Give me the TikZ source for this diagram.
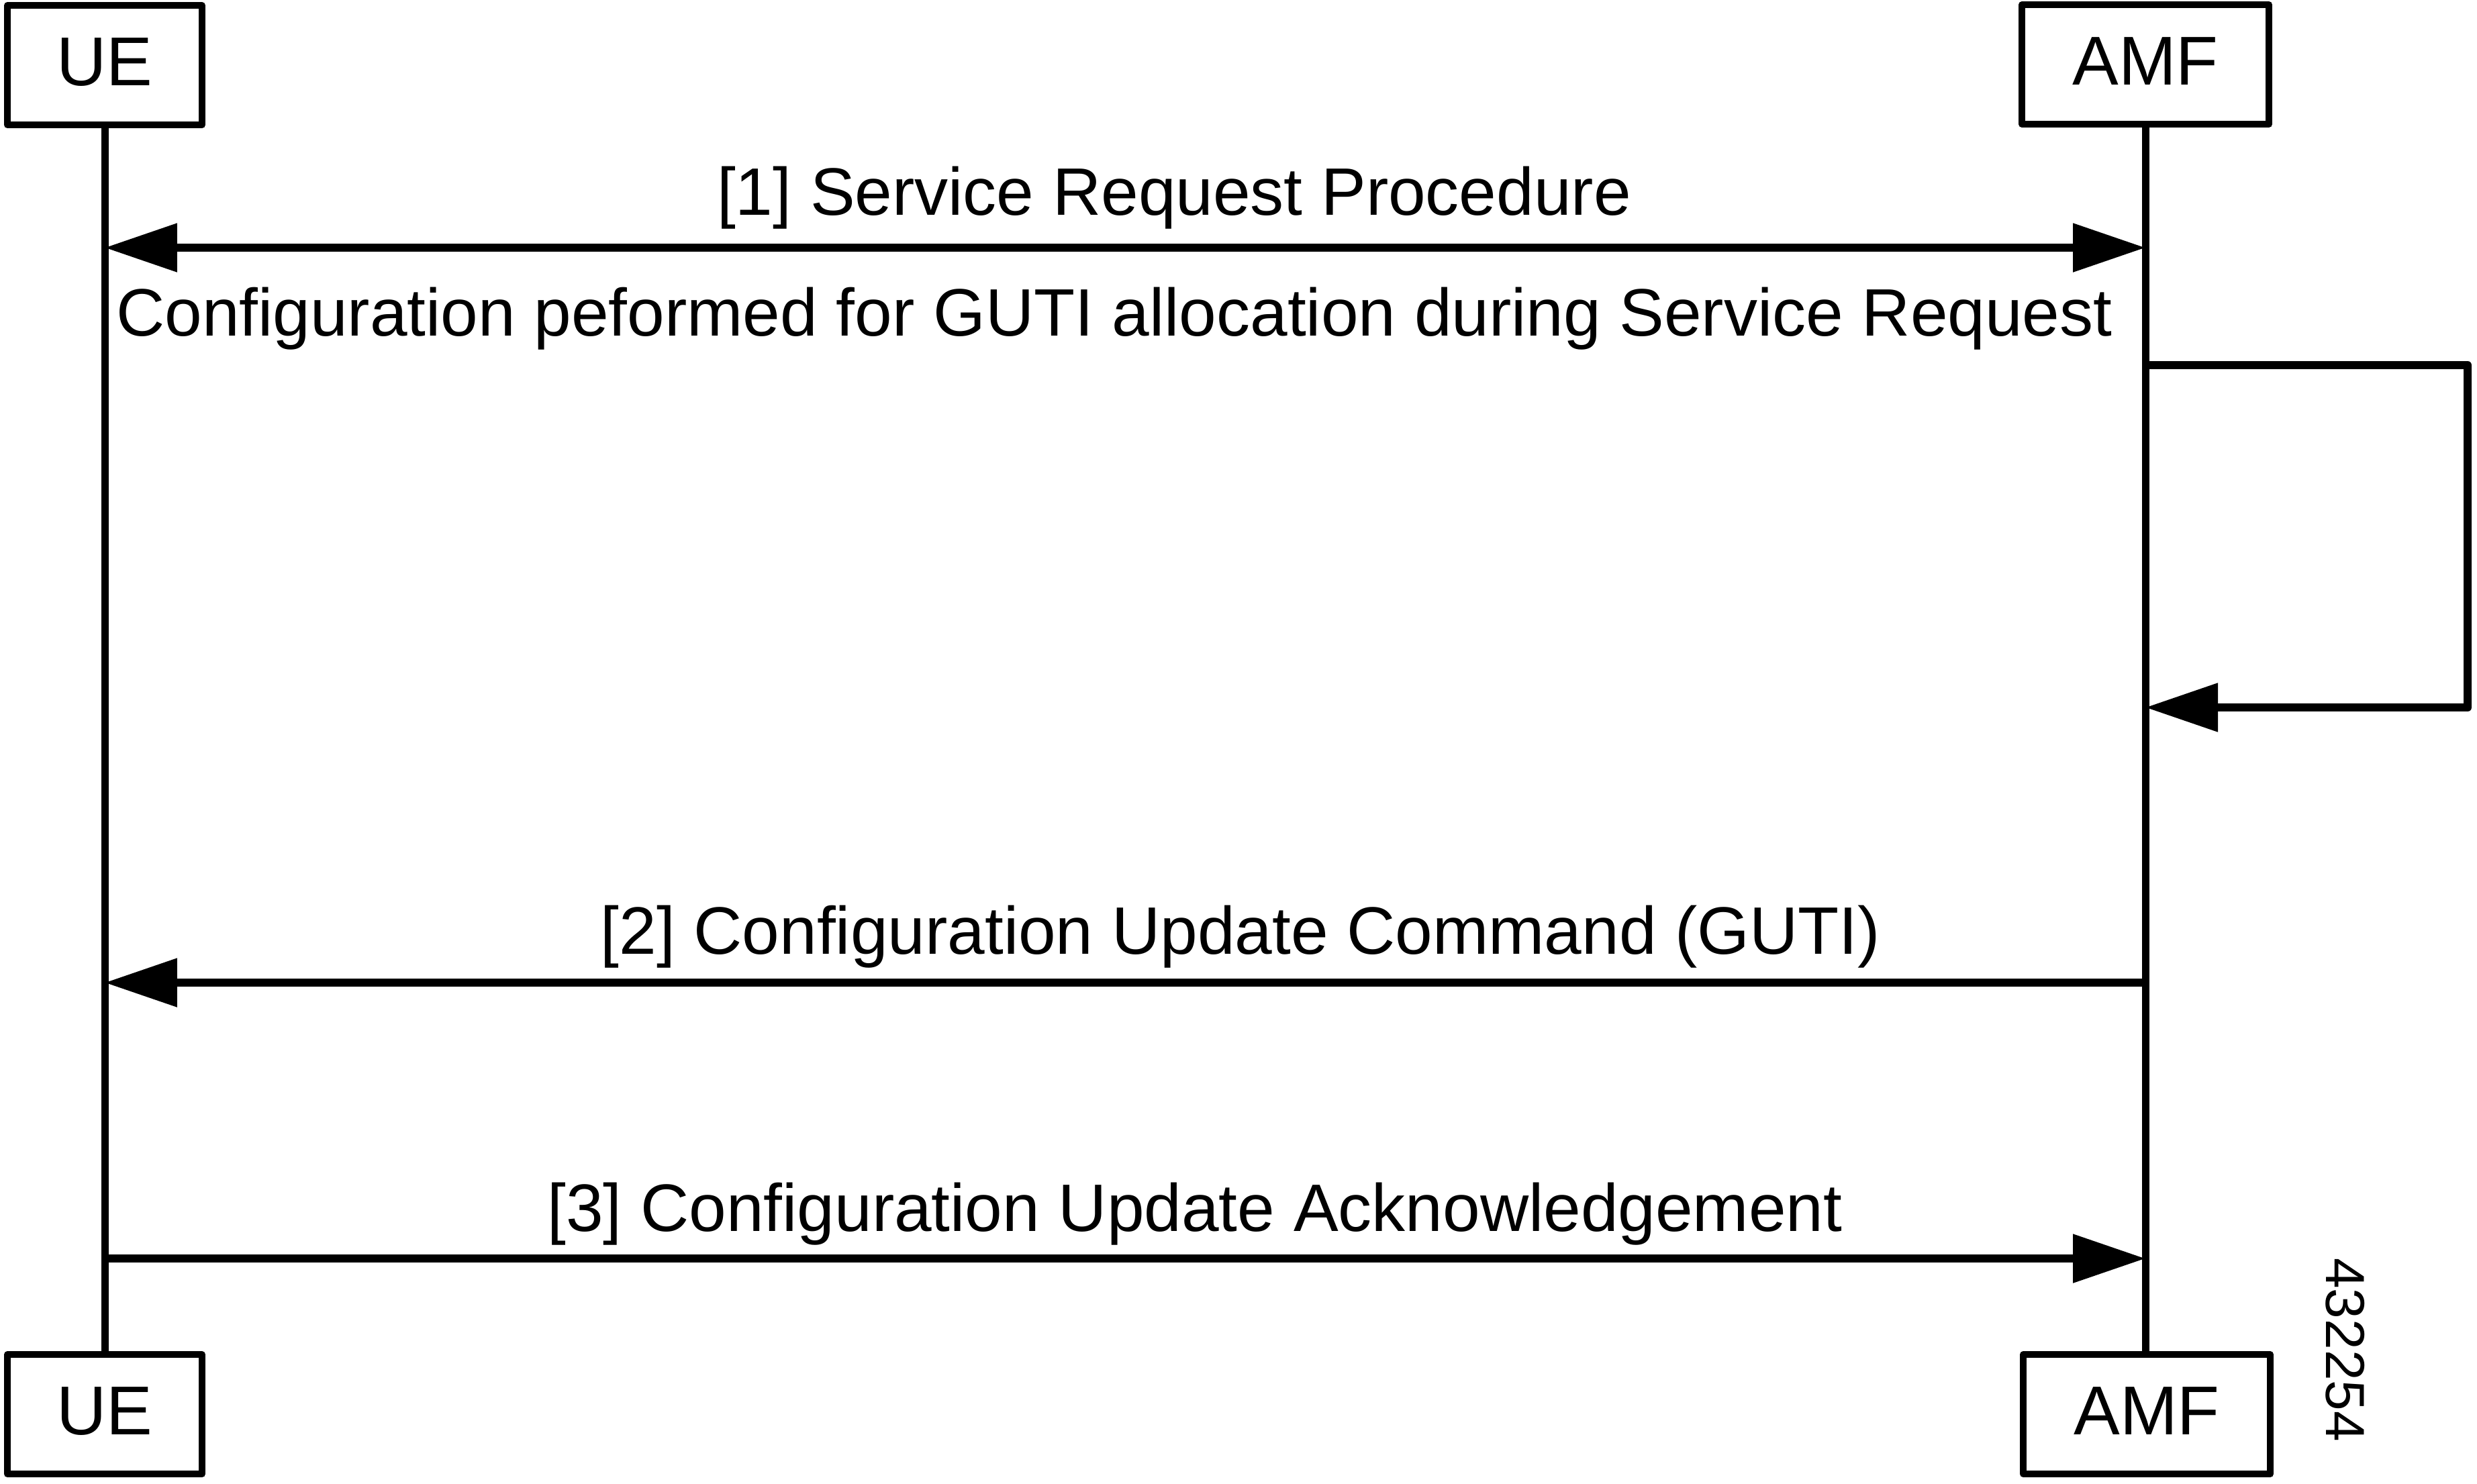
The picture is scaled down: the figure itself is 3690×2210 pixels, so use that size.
\documentclass[tikz,border=0pt]{standalone}
\usepackage{fontspec}
\setmainfont{Liberation Sans}
\usetikzlibrary{arrows.meta}
\begin{document}
\begin{tikzpicture}[x=0.1pt,y=-0.1pt,
  >={Triangle[length=10.8pt,width=7pt]},
  actor/.style={draw, line width=1pt, line join=round, inner sep=0pt,
    minimum height=17.8pt, text height=7.2pt, text depth=1.2pt,
    font=\fontsize{10.3}{12}\selectfont},
  lifeline/.style={line width=1.1pt},
  msg/.style={line width=1.2pt, line join=round},
  lbl/.style={anchor=base, inner sep=0pt, font=\fontsize{10}{12}\selectfont},
]
\useasboundingbox (0,0) rectangle (3690,2210);

% actors
\node[actor, minimum width=29pt] (ue1) at (156,97) {UE};
\node[actor, minimum width=29pt] (ue2) at (156,2107) {UE};
\node[actor, minimum width=36.8pt] (amf1) at (3196,96) {AMF};
\node[actor, minimum width=36.8pt] (amf2) at (3198,2107) {AMF};

% lifelines
\draw[lifeline] (ue1) -- (ue1 |- ue2.north);
\draw[lifeline] (amf1) -- (amf1 |- amf2.north);

% message anchor points
\coordinate (u1) at (156,369);
\coordinate (a1) at (3196,369);
\coordinate (u2) at (156,1464);
\coordinate (a2) at (3196,1464);
\coordinate (u3) at (156,1875);
\coordinate (a3) at (3196,1875);
\coordinate (s1) at (3196,544);
\coordinate (s2) at (3196,1054);

% messages
\draw[msg, <->] (u1) -- (a1);
\draw[msg, ->] (s1) -- ++(480,0) |- (s2);
\draw[msg, ->] (a2) -- (u2);
\draw[msg, ->] (u3) -- (a3);

% labels
\node[lbl] (m1) at (1749,320) {[1] Service Request Procedure};
\node[lbl] (c1) at (1660,500) {Configuration peformed for GUTI allocation during Service Request};
\node[lbl] (m2) at (1848,1421) {[2] Configuration Update Command (GUTI)};
\node[lbl] (m3) at (1780,1834) {[3] Configuration Update Acknowledgement};

\node[rotate=-90, inner sep=0pt, font=\fontsize{8.2}{10}\selectfont] (fig) at (3494,2011) {432254};
\end{tikzpicture}
\end{document}
